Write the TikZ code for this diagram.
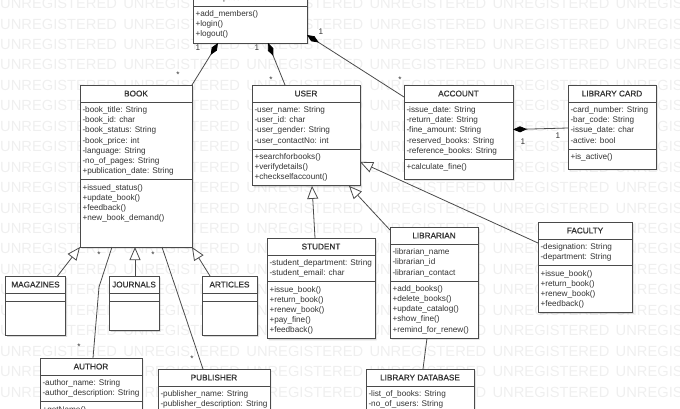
\documentclass[tikz,border=0pt]{standalone}
\usepackage{fontspec}
\setmainfont{Liberation Sans}
\newfontfamily\headfont[FakeBold=0.8]{Liberation Sans}
\usetikzlibrary{arrows.meta,shapes.multipart,shadows}
\definecolor{umlline}{HTML}{4A4A4A}
\definecolor{umltext}{HTML}{333333}
\definecolor{umlmark}{HTML}{EFEFEF}
\tikzset{
  umlclass/.style={rectangle split,rectangle split parts=3,draw=umlline,line width=.8pt,
    fill=white,text=umltext,anchor=north west,outer sep=0pt,inner xsep=2.5pt,inner ysep=2.6pt,
    font=\fontsize{8.2}{10.2}\selectfont,align=left,rectangle split part align={center,left,left},
    drop shadow={shadow xshift=1.5pt,shadow yshift=-1.5pt,opacity=.15,fill=black}},
  umllink/.style={draw=umlline,line width=.8pt},
  owned/.style={umllink,{Diamond[length=14pt,width=6pt,fill=black,color=black]}-},
  parent/.style={umllink,-{Triangle[open,length=13pt,width=11pt,fill=white]}},
  mult/.style={font=\fontsize{8.2}{10}\selectfont,text=umltext,inner sep=0pt},
  wmark/.style={font=\fontsize{14.7}{16}\selectfont,text=umlmark,anchor=west,inner sep=0pt}
}
\begin{document}
\begin{tikzpicture}[x=1pt,y=-1pt]
  \useasboundingbox (0,0) rectangle (680,409);
  \foreach \r in {0,...,19}
    \foreach \c in {0,...,5}
      \node[wmark] (w\r-\c) at (\c*123.1,3.5+\r*20.45) {UNREGISTERED};

  \node[umlclass,rectangle split parts=2,anchor=south west,minimum width=114pt] (admin) at (193,43)
    {\strut -password: char
     \nodepart{two}\strut +add\_members()\\+login()\\+logout()\strut};

  \node[umlclass,minimum width=112pt] (book) at (80,85)
    {\rule{0pt}{8.4pt}\headfont BOOK\strut
     \nodepart{two}\strut -book\_title: String\\-book\_id: char\\-book\_status: String\\-book\_price: int\\-language: String\\-no\_of\_pages: String\\+publication\_date: String\strut
     \nodepart{three}\strut +issued\_status()\\+update\_book()\\+feedback()\\+new\_book\_demand()\\\strut\\\strut};
  \node[umlclass,minimum width=108pt] (user) at (252,85)
    {\rule{0pt}{8.4pt}\headfont USER\strut
     \nodepart{two}\strut -user\_name: String\\-user\_id: char\\-user\_gender: String\\-user\_contactNo: int\strut
     \nodepart{three}\strut +searchforbooks()\\+verifydetails()\\+checkselfaccount()\strut};
  \node[umlclass,minimum width=109pt] (account) at (404,85)
    {\rule{0pt}{8.4pt}\headfont ACCOUNT\strut
     \nodepart{two}\strut -issue\_date: String\\-return\_date: String\\-fine\_amount: String\\-reserved\_books: String\\-reference\_books: String\strut
     \nodepart{three}\strut +calculate\_fine()\rule[-6.5pt]{0pt}{5pt}};
  \node[umlclass,minimum width=88pt] (card) at (568,85)
    {\rule{0pt}{8.4pt}\headfont LIBRARY CARD\strut
     \nodepart{two}\strut -card\_number: String\\-bar\_code: String\\-issue\_date: char\\-active: bool\strut
     \nodepart{three}\strut +is\_active()\rule[-6.5pt]{0pt}{5pt}};

  \node[umlclass,minimum width=60pt] (magazines) at (5.5,276)
    {\rule{0pt}{8.4pt}\headfont MAGAZINES\strut
     \nodepart{two}\rule{0pt}{1.5pt}
     \nodepart{three}\rule{0pt}{28.5pt}};
  \node[umlclass,minimum width=50pt] (journals) at (109,276)
    {\rule{0pt}{8.4pt}\headfont JOURNALS\strut
     \nodepart{two}\rule{0pt}{1.5pt}
     \nodepart{three}\rule{0pt}{23.5pt}};
  \node[umlclass,minimum width=55pt] (articles) at (202,276)
    {\rule{0pt}{8.4pt}\headfont ARTICLES\strut
     \nodepart{two}\rule{0pt}{1.5pt}
     \nodepart{three}\rule{0pt}{28.5pt}};

  \node[umlclass,minimum width=100pt] (author) at (40,358)
    {\rule{0pt}{8.4pt}\headfont AUTHOR\strut
     \nodepart{two}\strut -author\_name: String\\-author\_description: String\strut
     \nodepart{three}\strut +getName()\\\strut\\\strut};
  \node[umlclass,minimum width=110pt] (publisher) at (158,369)
    {\rule{0pt}{8.4pt}\headfont PUBLISHER\strut
     \nodepart{two}\strut -publisher\_name: String\\-publisher\_description: String\strut
     \nodepart{three}\strut};
  \node[umlclass,minimum width=108pt] (student) at (267,238)
    {\rule{0pt}{8.4pt}\headfont STUDENT\strut
     \nodepart{two}\strut -student\_department: String\\-student\_email: char\strut
     \nodepart{three}\strut +issue\_book()\\+return\_book()\\+renew\_book()\\+pay\_fine()\\+feedback()\strut};
  \node[umlclass,minimum width=88pt] (librarian) at (390,227)
    {\rule{0pt}{8.4pt}\headfont LIBRARIAN\strut
     \nodepart{two}\strut -librarian\_name\\-librarian\_id\\-librarian\_contact\strut
     \nodepart{three}\strut +add\_books()\\+delete\_books()\\+update\_catalog()\\+show\_fine()\\+remind\_for\_renew()\strut};
  \node[umlclass,minimum width=94pt] (faculty) at (538,222)
    {\rule{0pt}{8.4pt}\headfont FACULTY\strut
     \nodepart{two}\strut -designation: String\\-department: String\strut
     \nodepart{three}\strut +issue\_book()\\+return\_book()\\+renew\_book()\\+feedback()\strut};
  \node[umlclass,minimum width=108pt] (database) at (366,369)
    {\rule{0pt}{8.4pt}\headfont LIBRARY DATABASE\strut
     \nodepart{two}\strut -list\_of\_books: String\\-no\_of\_users: String\strut
     \nodepart{three}\strut};

  \draw[owned] ([xshift=25pt]admin.south west) -- (book.north east);
  \draw[owned] ([xshift=75pt]admin.south west) -- ([xshift=33pt]user.north west);
  \draw[owned] ([yshift=8pt]admin.south east) -- ([yshift=-12pt]account.north west);
  \draw[owned] ([yshift=-44.5pt]account.north east) -- ([yshift=-43pt]card.north west);

  \draw[parent] ([xshift=52pt]magazines.north west) -- (book.south west);
  \draw[parent] ([xshift=26pt]journals.north west) -- ([xshift=55pt]book.south west);
  \draw[parent] ([xshift=8pt]articles.north west) -- (book.south east);
  \coordinate (authorbend) at (99,287);
  \draw[umllink] ([xshift=32pt]book.south west) -- (authorbend) -- ([xshift=53pt]author.north west);
  \draw[umllink] ([xshift=82pt]book.south west) -- ([xshift=45pt]publisher.north west);
  \draw[parent] ([xshift=48pt]student.north west) -- ([xshift=60pt]user.south west);
  \draw[parent] ([yshift=-3pt]librarian.north west) -- ([xshift=-11pt]user.south east);
  \draw[parent] ([yshift=-21pt]faculty.north west) -- ([yshift=24pt]user.south east);
  \draw[umllink] ([xshift=37pt]librarian.south west) -- ([xshift=57pt]database.north west);

  \node[mult] (m1) at (198,48) {1};
  \node[mult] (m2) at (257,48) {1};
  \node[mult] (m3) at (321,32) {1};
  \node[mult] (m4) at (178,75) {*};
  \node[mult] (m5) at (271,80) {*};
  \node[mult] (m6) at (400,80) {*};
  \node[mult] (m7) at (523,142) {1};
  \node[mult] (m8) at (558,136) {1};
  \node[mult] (m9) at (99,255) {*};
  \node[mult] (m10) at (153,255) {*};
  \node[mult] (m11) at (79,347) {*};
  \node[mult] (m12) at (192,359) {*};
\end{tikzpicture}
\end{document}
